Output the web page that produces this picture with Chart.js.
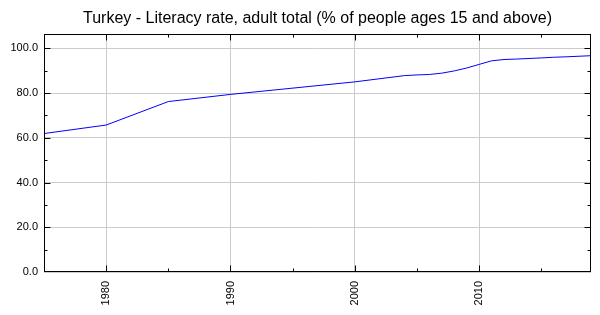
<!DOCTYPE html>
<html>
<head>
<meta charset="utf-8">
<script src="https://cdn.jsdelivr.net/npm/chart.js@4/dist/chart.umd.min.js"></script>
<style>
	html, body { margin: 0; padding: 0; background: #fff; }
	#chart { display: block; }
</style>
</head>
<body>
<canvas id="chart" width="600" height="315"></canvas>
<script>
'use strict';

// Values
var years = [1975, 1980, 1985, 1990, 2000, 2004, 2005, 2006, 2007, 2008, 2009, 2010, 2011, 2012, 2013, 2015, 2016, 2017, 2019];
var literacy = [61.9, 65.7, 76.2, 79.4, 85.0, 87.8, 88.1, 88.3, 88.9, 89.9, 91.2, 92.8, 94.4, 95.0, 95.2, 95.7, 96.0, 96.2, 96.7];
var xLabelYears = [1980, 1990, 2000, 2010];
var yLabelValues = [0, 20, 40, 60, 80, 100];

var titleText = 'Turkey - Literacy rate, adult total (% of people ages 15 and above)';
var fontFamily = '"Liberation Sans", Arial, sans-serif';
var gridColor = '#cccccc';

var points = years.map(function(year, i) {
	return { x: year, y: literacy[i] };
});

function isLabelled(list, value) {
	return list.indexOf(value) !== -1;
}

function noScalePadding(scale) {
	scale.paddingLeft = 0;
	scale.paddingRight = 0;
	scale.paddingTop = 0;
	scale.paddingBottom = 0;
}

// Title centred over the plot area
var plotTitle = {
	id: 'plotTitle',
	afterDraw: function(chart) {
		var c = chart.ctx;
		var area = chart.chartArea;
		c.save();
		c.fillStyle = '#000';
		c.font = '16px ' + fontFamily;
		c.textAlign = 'center';
		c.textBaseline = 'middle';
		c.fillText(titleText, (area.left + area.right) / 2, 19);
		c.restore();
	}
};

// Frame and inward tick marks on all four sides
var frameTicks = {
	id: 'frameTicks',
	afterDraw: function(chart) {
		var c = chart.ctx;
		var area = chart.chartArea;
		var xs = chart.scales.x;
		var ys = chart.scales.y;
		var left = Math.round(area.left) + 0.5;
		var right = Math.round(area.right) - 0.5;
		var top = Math.round(area.top) + 0.5;
		var bottom = Math.round(area.bottom) - 0.5;
		c.save();
		c.strokeStyle = '#000';
		c.lineWidth = 1;
		c.beginPath();
		xs.ticks.forEach(function(t) {
			if (t.value % 5 !== 0 || t.value <= xs.min || t.value >= xs.max) {
				return;
			}
			var len = t.value % 10 === 0 ? 6 : 3;
			var px = Math.round(xs.getPixelForValue(t.value)) + 0.5;
			c.moveTo(px, bottom);
			c.lineTo(px, bottom - len);
			c.moveTo(px, top);
			c.lineTo(px, top + len);
		});
		ys.ticks.forEach(function(t) {
			if (t.value % 10 !== 0 || t.value <= ys.min) {
				return;
			}
			var len = t.value % 20 === 0 ? 6 : 3;
			var py = Math.round(ys.getPixelForValue(t.value)) + 0.5;
			c.moveTo(left, py);
			c.lineTo(left + len, py);
			c.moveTo(right, py);
			c.lineTo(right - len, py);
		});
		c.stroke();
		c.strokeRect(left, top, right - left, bottom - top);
		c.restore();
	}
};

var ctx = document.getElementById('chart');
new Chart(ctx, {
	type: 'line',
	data: {
		datasets: [ {
			data: points,
			borderColor: '#0000ff',
			borderWidth: 1,
			pointRadius: 0,
			tension: 0,
			fill: false
		} ]
	},
	options: {
		responsive: false,
		animation: false,
		devicePixelRatio: 1,
		layout: {
			padding: { left: 0, right: 9, top: 34, bottom: 0 }
		},
		plugins: {
			legend: { display: false },
			tooltip: { enabled: false },
			title: { display: false }
		},
		scales: {
			x: {
				type: 'linear',
				min: 1975,
				max: 2019,
				afterFit: function(scale) {
					scale.height = 43;
					noScalePadding(scale);
				},
				border: { display: false },
				grid: {
					drawTicks: false,
					color: function(context) {
						return context.tick && isLabelled(xLabelYears, context.tick.value) ? gridColor : 'rgba(0,0,0,0)';
					}
				},
				ticks: {
					stepSize: 5,
					autoSkip: false,
					minRotation: 90,
					maxRotation: 90,
					padding: 9,
					color: '#000',
					font: { family: fontFamily, size: 11 },
					callback: function(value) {
						return isLabelled(xLabelYears, value) ? String(value) : '';
					}
				}
			},
			y: {
				min: 0,
				max: 106.4,
				afterFit: function(scale) {
					scale.width = 44;
					noScalePadding(scale);
				},
				border: { display: false },
				grid: {
					drawTicks: false,
					color: function(context) {
						return context.tick && isLabelled(yLabelValues, context.tick.value) ? gridColor : 'rgba(0,0,0,0)';
					}
				},
				ticks: {
					stepSize: 10,
					autoSkip: false,
					padding: 6,
					color: '#000',
					font: { family: fontFamily, size: 11 },
					callback: function(value) {
						return isLabelled(yLabelValues, value) ? value.toFixed(1) : '';
					}
				}
			}
		}
	},
	plugins: [ frameTicks, plotTitle ]
});
</script>
</body>
</html>
